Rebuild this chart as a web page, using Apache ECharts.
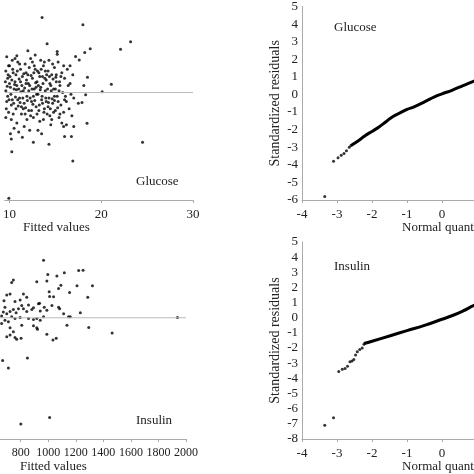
<!DOCTYPE html>
<html><head><meta charset="utf-8">
<script src="https://cdn.jsdelivr.net/npm/echarts@6/dist/echarts.min.js"></script>
<style>html,body{margin:0;padding:0;background:#fff}#c{width:474px;height:474px}</style>
</head><body><div id="c"></div>
<script>
const glucoseOutliers = [[13.55,4.19],[18.0,3.78],[14.1,2.72],[23.2,2.83],[22.1,2.42],[18.8,2.44],[18.2,2.23],[17.2,2.01],[17.6,1.82],[15.2,2.29],[15.2,2.14],[12.0,2.34],[10.8,2.06],[21.1,0.46],[20.1,0.05],[18.5,0.85],[18.1,0.39],[18.3,-0.13],[17.9,-0.56],[17.5,-0.6],[17.0,-1.9],[16.75,-2.46],[16.0,-2.46],[15.9,-1.9],[18.45,-1.72],[24.5,-2.78],[16.9,-3.82],[14.3,-2.89],[12.6,-2.78],[10.25,-3.3],[10.2,-2.59],[9.93,-5.9]];
const glucoseCloud = [[9.6,1.2],[9.8,0.8],[10.0,1.5],[10.1,0.3],[10.3,-0.4],[10.4,1.1],[10.6,0.6],[10.7,-0.9],[10.9,1.7],[11.0,0.2],[11.1,-0.3],[11.2,1.3],[11.3,-1.2],[11.4,0.9],[11.5,0.1],[11.6,-0.6],[11.7,1.6],[11.8,0.5],[11.9,-0.2],[12.0,1.0],[12.1,-1.0],[12.2,0.4],[12.3,1.9],[12.4,-0.5],[12.5,0.8],[12.6,-1.4],[12.7,0.2],[12.8,1.3],[12.9,-0.8],[13.0,0.6],[13.1,-0.1],[13.2,1.1],[13.3,-1.6],[13.4,0.3],[13.5,-0.4],[13.6,0.9],[13.7,1.5],[13.8,-0.9],[13.9,0.1],[14.0,0.7],[14.1,-1.2],[14.2,1.2],[14.3,-0.3],[14.4,0.5],[14.5,-1.8],[14.6,1.0],[14.7,-0.6],[14.8,0.2],[14.9,1.4],[15.0,-1.0],[15.1,0.6],[15.2,-0.2],[15.3,1.7],[15.4,-1.4],[15.5,0.4],[15.6,-0.7],[15.7,1.1],[15.8,0.0],[15.9,-1.1],[16.0,0.8],[16.2,-0.5],[16.3,1.3],[16.5,-0.9],[16.6,0.5],[16.8,-1.3],[16.9,1.0],[17.0,-0.3],[9.7,-0.5],[9.9,-1.1],[10.2,-1.5],[10.5,-2.0],[10.8,-1.7],[11.0,-2.2],[11.3,-0.8],[11.6,-1.9],[11.9,-1.5],[12.2,-2.1],[12.6,-0.2],[12.9,0.3],[13.1,-2.1],[13.4,1.8],[13.7,-1.5],[14.0,-0.5],[14.3,1.8],[14.6,-1.5],[15.0,0.2],[15.3,-0.5],[15.6,0.9],[9.6,0.1],[9.8,-0.2],[10.0,0.5],[10.2,-0.7],[10.5,0.2],[10.7,1.0],[10.9,-0.4],[11.2,0.6],[11.5,-0.9],[11.8,1.1],[12.1,0.1],[12.4,-1.0],[12.7,1.5],[13.0,-1.2],[13.3,0.9],[13.6,-0.6],[13.9,1.2],[14.2,-0.8],[14.5,0.4],[14.8,-1.1],[15.1,1.0],[15.4,0.1],[15.7,-1.7],[16.1,-0.2],[16.4,0.4],[16.7,-0.1],[9.7,2.0],[10.1,-2.3],[10.6,1.9],[11.4,-2.5],[12.8,2.1],[13.5,-2.3],[14.7,1.6],[15.9,1.5],[16.2,-1.8],
[9.55,0.6],[9.65,-0.9],[9.75,0.35],[9.85,1.0],[9.95,-0.4],[10.05,0.9],[10.15,-0.1],[10.25,0.7],[10.35,1.3],[10.45,-0.6],[10.55,0.45],[10.65,-0.25],[10.75,0.15],[10.85,1.2],[10.95,-0.75],[11.05,0.75],[11.15,-0.55],[11.25,0.05],[11.35,0.4],[11.45,-0.3],[11.55,1.05],[11.65,0.25],[11.75,-0.85],[11.85,0.7],[11.95,-0.45],[12.05,0.5],[12.15,1.4],[12.25,-0.3],[12.35,0.95],[12.45,0.2],[12.55,-0.65],[12.65,1.1],[12.75,-0.45],[12.85,0.55],[12.95,-0.1],[13.05,1.2],[13.15,0.4],[13.25,-0.7],[13.35,0.15],[13.45,1.3],[13.55,-0.2],[13.65,0.5],[13.75,-1.1],[13.85,0.8],[13.95,-0.3],[14.05,1.0],[14.15,0.2],[14.25,-0.55],[14.35,0.9],[14.45,-0.9],[14.55,0.1],[14.65,-0.35],[14.75,0.75],[14.9,-0.45],[15.05,0.85],[15.25,-0.85],[15.45,0.6],[9.6,-1.4],[9.9,1.5],[10.3,1.8],[10.4,-1.2],[10.8,0.4],[11.1,1.6],[11.7,-1.2],[12.3,-1.3],[12.5,1.7],[13.2,-1.0],[13.8,1.7],[14.4,-1.3],[14.9,-0.2],[15.5,-1.2],[16.0,-0.4],[16.6,1.5]];
const insulinPoints = [[966,3.79],[997,2.86],[1063,2.75],[1117,2.97],[1221,3.12],[1253,3.14],[747,2.49],[735,2.32],[917,2.37],[990,2.43],[1092,2.15],[1209,2.11],[1321,2.11],[1155,1.67],[1007,1.72],[1075,1.93],[820,1.57],[723,1.57],[699,1.50],[796,1.18],[844,1.35],[759,1.07],[679,1.13],[1010,1.41],[1039,1.39],[1287,1.35],[929,0.92],[937,0.96],[971,0.70],[893,0.66],[857,0.85],[808,0.81],[784,0.59],[686,0.70],[747,0.55],[723,0.42],[674,0.38],[699,0.27],[767,0.33],[820,0.59],[844,0.42],[881,0.55],[942,0.44],[990,0.49],[1027,0.81],[1075,0.70],[1083,0.59],[1112,0.27],[1233,0.33],[1148,0.06],[1160,0.06],[966,0.06],[857,-0.05],[893,-0.12],[917,-0.05],[942,-0.16],[662,0.12],[735,0.06],[759,-0.05],[796,0.01],[711,-0.27],[686,-0.16],[662,-0.38],[723,-0.66],[808,-0.49],[893,-0.53],[917,-0.66],[1136,-0.49],[1294,-0.64],[922,-0.75],[747,-0.92],[723,-1.14],[771,-1.42],[759,-1.31],[803,-1.35],[699,-1.26],[990,-1.09],[1058,-1.35],[1034,-1.46],[1464,-1.00],[1938,0.01],[669,-2.82],[711,-3.32],[849,-2.65],[1010,-6.58],[801,-7.01]];
const qqGlucoseTail = [[-3.35,-5.8],[-3.1,-3.8],[-2.97,-3.6],[-2.88,-3.45],[-2.8,-3.35],[-2.73,-3.2],[-2.65,-3.0],[-2.6,-2.9]];
const qqGlucoseLine = [[-2.6,-2.9],[-2.4,-2.65],[-2.2,-2.35],[-2.0,-2.1],[-1.8,-1.85],[-1.6,-1.55],[-1.4,-1.25],[-1.2,-1.05],[-1.0,-0.85],[-0.8,-0.7],[-0.5,-0.42],[-0.2,-0.12],[0,0.03],[0.3,0.25],[0.6,0.5],[0.9,0.75],[1.3,1.1]];
const qqInsulinTail = [[-3.35,-7.1],[-3.1,-6.6],[-2.95,-3.55],[-2.85,-3.4],[-2.77,-3.35],[-2.7,-3.2],[-2.63,-2.9],[-2.57,-2.85],[-2.52,-2.75],[-2.47,-2.45],[-2.42,-2.25],[-2.35,-2.1],[-2.28,-2.0],[-2.23,-1.75]];
const qqInsulinLine = [[-2.23,-1.7],[-2.0,-1.55],[-1.5,-1.2],[-1.0,-0.85],[-0.5,-0.5],[0,-0.1],[0.3,0.15],[0.6,0.45],[0.9,0.8],[1.3,1.2]];
const glucoseTicks = [10,20,30];
const insulinTicks = [800,1000,1200,1400,1600,1800,2000];
const qqTicks = [-4,-3,-2,-1,0];

const font = 'Liberation Serif';
const txt = {fontFamily:font, fontSize:13, color:'#222'};
const axLine = {lineStyle:{color:'#aaa'}};
function xAx(gi,min,max,ticks,fs){return {gridIndex:gi,type:'value',min,max,axisLine:{onZero:false,...axLine},axisTick:{length:3,customValues:ticks,lineStyle:{color:'#aaa'}},splitLine:{show:false},axisLabel:{...txt,fontSize:fs||13,margin:8,customValues:ticks,hideOverlap:false,showMinLabel:true,showMaxLabel:true,formatter:v=>String(v)}};}
function yAx(gi,min,max,show){return {gridIndex:gi,type:'value',min,max,interval:1,show:show,axisLine:{show:true,onZero:false,...axLine},axisTick:{show:false},splitLine:{show:false},axisLabel:{...txt,margin:4},name:show?'Standardized residuals':'',nameLocation:'middle',nameGap:20,nameTextStyle:{...txt,fontSize:14}};}
function sc(xi,data,size){return {type:'scatter',xAxisIndex:xi,yAxisIndex:xi,data,symbolSize:size||3,itemStyle:{color:'#000'},silent:true,clip:false};}
function zero(xi,xmin,xmax){return {type:'line',xAxisIndex:xi,yAxisIndex:xi,data:[[xmin,0],[xmax,0]],symbol:'none',lineStyle:{color:'#bbb',width:1},silent:true};}
function ln(xi,data){return {type:'line',xAxisIndex:xi,yAxisIndex:xi,data,symbol:'none',smooth:true,lineStyle:{color:'#000',width:3},silent:true};}
const chart = echarts.init(document.getElementById('c'));
chart.setOption({
  animation:false,
  grid:[{left:0,top:3,width:193,height:197},{left:302,top:3,width:172,height:197},{left:0,top:242,width:186,height:197},{left:302,top:242,width:172,height:197}],
  xAxis:[xAx(0,9.47,30,glucoseTicks),xAx(1,-4,0.914,qqTicks),xAx(2,650,2000,insulinTicks,12),xAx(3,-4,0.914,qqTicks)],
  yAxis:[yAx(0,-6,5,false),yAx(1,-6,5,true),yAx(2,-8,5,false),yAx(3,-8,5,true)],
  series:[zero(0,9.47,30),sc(0,glucoseCloud),sc(0,glucoseOutliers),ln(1,qqGlucoseLine),sc(1,qqGlucoseTail),zero(2,650,2000),sc(2,insulinPoints),ln(3,qqInsulinLine),sc(3,qqInsulinTail)],
  graphic:[
    {type:'text',left:136,top:175,style:{text:'Glucose',font:'13px '+font,fill:'#222'}},
    {type:'text',left:334,top:21,style:{text:'Glucose',font:'13px '+font,fill:'#222'}},
    {type:'text',left:136,top:414,style:{text:'Insulin',font:'13px '+font,fill:'#222'}},
    {type:'text',left:334,top:260,style:{text:'Insulin',font:'13px '+font,fill:'#222'}},
    {type:'text',left:23,top:221,style:{text:'Fitted values',font:'13px '+font,fill:'#222'}},
    {type:'text',left:20,top:460,style:{text:'Fitted values',font:'13px '+font,fill:'#222'}},
    {type:'text',left:402,top:221,style:{text:'Normal quantiles',font:'13px '+font,fill:'#222'}},
    {type:'text',left:402,top:460,style:{text:'Normal quantiles',font:'13px '+font,fill:'#222'}}
  ]
});
</script></body></html>
